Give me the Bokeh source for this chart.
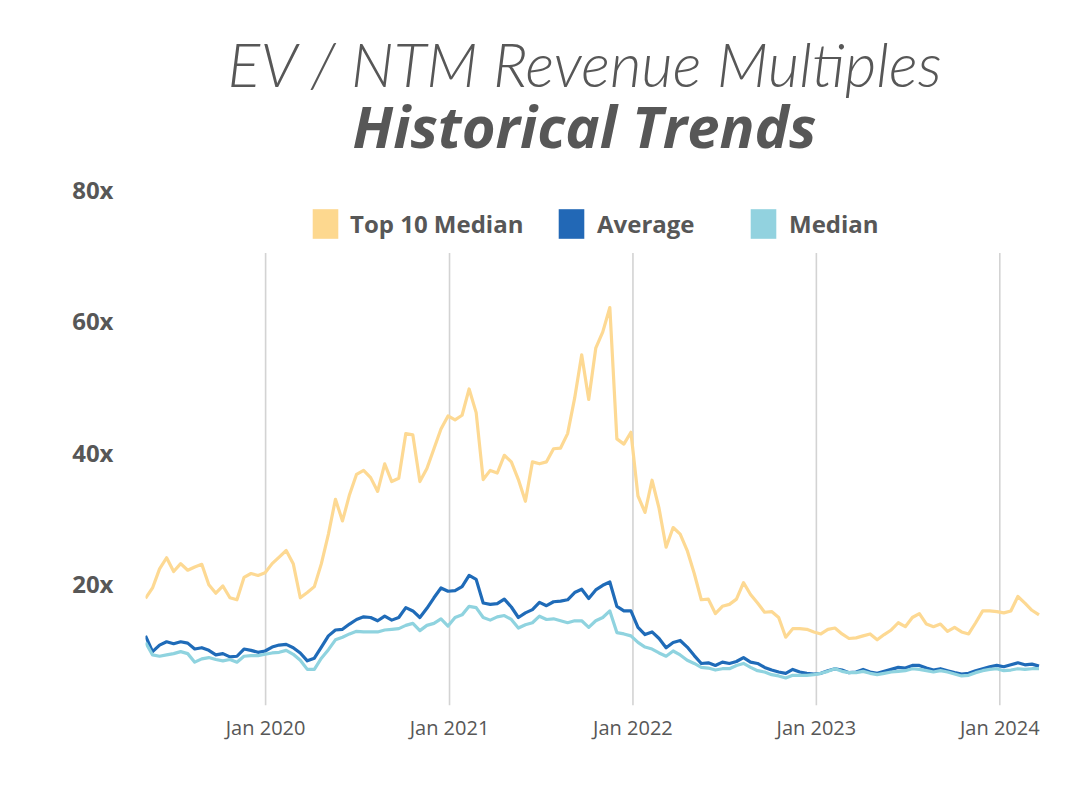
import pandas as pd
from bokeh.plotting import figure
from bokeh.models import (ColumnDataSource, FixedTicker, DatetimeTickFormatter,
                          Range1d, Label, Legend, LegendItem)
from bokeh.embed import file_html
from bokeh.resources import INLINE

# ---------------- data (bi-weekly readings) ----------------
start_date = "2019-05-07"
step = "14D"

top10 = [17.7, 19.3, 22.2, 23.9, 21.8, 23.0, 22.0, 22.5, 22.9, 19.8,
         18.5, 19.6, 17.8, 17.5, 20.9, 21.5, 21.2, 21.6, 23.0, 24.0,
         25.0, 23.0, 17.8, 18.6, 19.5, 23.0, 27.5, 32.8, 29.5, 33.5,
         36.6, 37.2, 36.1, 34.0, 38.2, 35.5, 36.0, 42.8, 42.6, 35.5,
         37.5, 40.5, 43.5, 45.5, 44.9, 45.6, 49.6, 46.0, 35.8, 37.2,
         36.8, 39.5, 38.5, 35.8, 32.5, 38.5, 38.2, 38.5, 40.5, 40.6,
         42.8, 48.2, 54.8, 48.0, 55.8, 58.3, 62.0, 42.0, 41.2, 43.0,
         33.3, 30.8, 35.7, 31.4, 25.5, 28.5, 27.5, 25.0, 21.5, 17.5,
         17.6, 15.4, 16.5, 16.8, 17.6, 20.1, 18.3, 17.0, 15.6, 15.7,
         14.8, 11.8, 13.1, 13.1, 13.0, 12.6, 12.3, 13.0, 13.2, 12.3,
         11.6, 11.7, 12.0, 12.3, 11.4, 12.2, 12.9, 14.0, 13.4, 14.8,
         15.4, 13.8, 13.4, 13.8, 12.7, 13.3, 12.6, 12.3, 14.0, 15.8,
         15.8, 15.7, 15.5, 15.8, 18.0, 17.0, 15.9, 15.2]

average = [12.0, 9.6, 10.6, 11.1, 10.8, 11.1, 10.9, 10.0, 10.2, 9.8,
           9.1, 9.3, 8.8, 8.9, 10.0, 9.8, 9.5, 9.7, 10.3, 10.6,
           10.7, 10.2, 9.4, 8.2, 8.6, 10.3, 12.0, 12.9, 13.0, 13.8,
           14.5, 14.9, 14.8, 14.3, 15.0, 14.4, 14.8, 16.3, 15.8, 14.8,
           16.2, 17.8, 19.3, 18.8, 18.9, 19.5, 21.2, 20.6, 17.0, 16.8,
           16.9, 17.6, 16.4, 14.8, 15.5, 16.0, 17.1, 16.6, 17.2, 17.3,
           17.5, 18.6, 19.1, 17.7, 19.0, 19.7, 20.2, 16.5, 15.8, 15.8,
           13.3, 12.2, 12.6, 11.6, 10.2, 11.0, 11.3, 10.3, 9.0, 7.8,
           7.9, 7.5, 8.0, 7.8, 8.1, 8.7, 8.0, 7.8, 7.2, 6.8,
           6.5, 6.3, 6.9, 6.5, 6.3, 6.2, 6.3, 6.7, 7.0, 6.8,
           6.4, 6.5, 6.9, 6.5, 6.3, 6.6, 6.9, 7.2, 7.1, 7.5,
           7.5, 7.1, 6.8, 7.0, 6.7, 6.4, 6.2, 6.3, 6.7, 7.0,
           7.3, 7.5, 7.3, 7.6, 7.9, 7.6, 7.7, 7.4]

median = [11.0, 9.1, 8.9, 9.1, 9.3, 9.6, 9.3, 8.0, 8.5, 8.7,
          8.4, 8.2, 8.4, 8.0, 8.9, 9.0, 9.0, 9.2, 9.4, 9.5,
          9.8, 9.2, 8.3, 6.9, 6.9, 8.6, 9.9, 11.4, 11.8, 12.3,
          12.7, 12.6, 12.6, 12.6, 12.9, 13.0, 13.1, 13.6, 13.9, 12.8,
          13.6, 13.9, 14.6, 13.5, 14.8, 15.2, 16.5, 16.3, 14.8, 14.4,
          14.9, 15.1, 14.5, 13.2, 13.7, 14.0, 15.0, 14.5, 14.6, 14.3,
          14.0, 14.3, 14.3, 13.3, 14.3, 14.8, 15.8, 12.5, 12.3, 12.0,
          11.0, 10.3, 10.0, 9.4, 8.9, 9.7, 9.1, 8.3, 7.8, 7.2,
          7.1, 6.8, 7.0, 7.0, 7.5, 7.8, 7.2, 6.7, 6.5, 6.1,
          5.9, 5.6, 6.0, 6.0, 6.0, 6.1, 6.3, 6.6, 7.0, 6.6,
          6.4, 6.4, 6.6, 6.3, 6.1, 6.3, 6.5, 6.6, 6.7, 7.0,
          6.9, 6.7, 6.5, 6.7, 6.5, 6.2, 5.9, 6.0, 6.4, 6.7,
          6.9, 7.0, 6.7, 6.8, 7.0, 6.9, 7.0, 7.0]

series_names = ["Top 10 Median", "Average", "Median"]
year_ticks = ["2020-01-01", "2021-01-01", "2022-01-01", "2023-01-01", "2024-01-01"]
y_ticks = [20, 40, 60, 80]
y_tick_labels = ["20x", "40x", "60x", "80x"]
title_line1 = "EV / NTM Revenue Multiples"
title_line2 = "Historical Trends"

# ---------------- styling ----------------
C_TOP = "#FDD993"
C_AVG = "#1F6BB8"
C_MED = "#8FD3DF"
SWATCH = ["#FDD88F", "#2268B6", "#92D2DF"]
GREY = "#575757"

dates = pd.date_range(start_date, periods=len(top10), freq=step)
src = ColumnDataSource(dict(date=dates, top10=top10, average=average, median=median))

tick_dates = pd.to_datetime(year_ticks)
tick_ms = [t.value // 10**6 for t in tick_dates]

# frame spans the whole upper area (heading lives inside it); 6.567 px per 1x
y_lo, y_hi = 1.4, 108.75
grid_top = 70.3
grid_src = ColumnDataSource(dict(x=tick_dates, y0=[y_lo] * len(tick_dates),
                                 y1=[grid_top] * len(tick_dates)))

p = figure(width=1080, height=785, x_axis_type="datetime",
           output_backend="svg", toolbar_location=None, title=None,
           x_range=Range1d(pd.Timestamp(start_date), pd.Timestamp("2024-03-26")),
           y_range=Range1d(y_lo, y_hi),
           min_border_left=145, min_border_right=38, min_border_bottom=80,
           min_border_top=0, outline_line_color=None)
p.background_fill_color = "white"
p.border_fill_color = "white"

p.xgrid.grid_line_color = None
p.ygrid.grid_line_color = None

p.segment(x0="x", y0="y0", x1="x", y1="y1", source=grid_src,
          line_color="#D3D3D3", line_width=1.6)

r_top = p.line("date", "top10", source=src, line_color=C_TOP, line_width=3.2,
               line_join="round")
r_avg = p.line("date", "average", source=src, line_color=C_AVG, line_width=3.2,
               line_join="round")
r_med = p.line("date", "median", source=src, line_color=C_MED, line_width=3.2,
               line_join="round")

# square swatches for the legend (hidden renderers, only used for legend glyphs)
sw = []
for col, c in zip(["top10", "average", "median"], SWATCH):
    sw.append(p.rect("date", col, width=1, height=1, source=src, fill_color=c,
                     line_color=None, visible=False))

legend_x = [164, 410, 602]
legend_standoff = [9, 10, 10]
for name, r, lx, ls in zip(series_names, sw, legend_x, legend_standoff):
    lg = Legend(items=[LegendItem(label=name, renderers=[r])],
                orientation="horizontal", location=(lx, 463),
                glyph_width=32, glyph_height=37, label_standoff=ls, spacing=0,
                padding=0, margin=0, border_line_color=None,
                background_fill_alpha=0,
                label_text_font="Open Sans", label_text_font_style="bold",
                label_text_font_size="24px", label_text_color=GREY,
                label_height=37)
    p.add_layout(lg)

# axes
p.xaxis.ticker = FixedTicker(ticks=tick_ms)
p.xaxis.formatter = DatetimeTickFormatter(years="%b %Y", months="%b %Y", days="%b %Y")
p.xaxis.axis_line_color = None
p.xaxis.major_tick_line_color = None
p.xaxis.minor_tick_line_color = None
p.xaxis.major_tick_out = 0
p.xaxis.minor_tick_out = 0
p.xaxis.major_label_text_font = "Open Sans"
p.xaxis.major_label_text_font_size = "20px"
p.xaxis.major_label_text_color = GREY
p.xaxis.major_label_standoff = 8

p.yaxis.ticker = FixedTicker(ticks=y_ticks)
p.yaxis.major_label_overrides = {t: l for t, l in zip(y_ticks, y_tick_labels)}
p.yaxis.axis_line_color = None
p.yaxis.major_tick_line_color = None
p.yaxis.minor_tick_line_color = None
p.yaxis.major_tick_out = 0
p.yaxis.minor_tick_out = 0
p.yaxis.major_label_text_font = "Open Sans"
p.yaxis.major_label_text_font_style = "bold"
p.yaxis.major_label_text_font_size = "24px"
p.yaxis.major_label_text_color = GREY
p.yaxis.major_label_standoff = 32

# two-line heading (screen units, measured from the frame's bottom-left)
p.add_layout(Label(x=440, y=642, x_units="screen", y_units="screen",
                   text=title_line1, text_align="center", text_baseline="alphabetic",
                   text_font="Lato Light", text_font_style="italic",
                   text_font_size="61px", text_color=GREY))
p.add_layout(Label(x=439, y=580, x_units="screen", y_units="screen",
                   text=title_line2, text_align="center", text_baseline="alphabetic",
                   text_font="Open Sans", text_font_style="bold italic",
                   text_font_size="58px", text_color=GREY))

open("out.html", "w").write(file_html(p, INLINE))
